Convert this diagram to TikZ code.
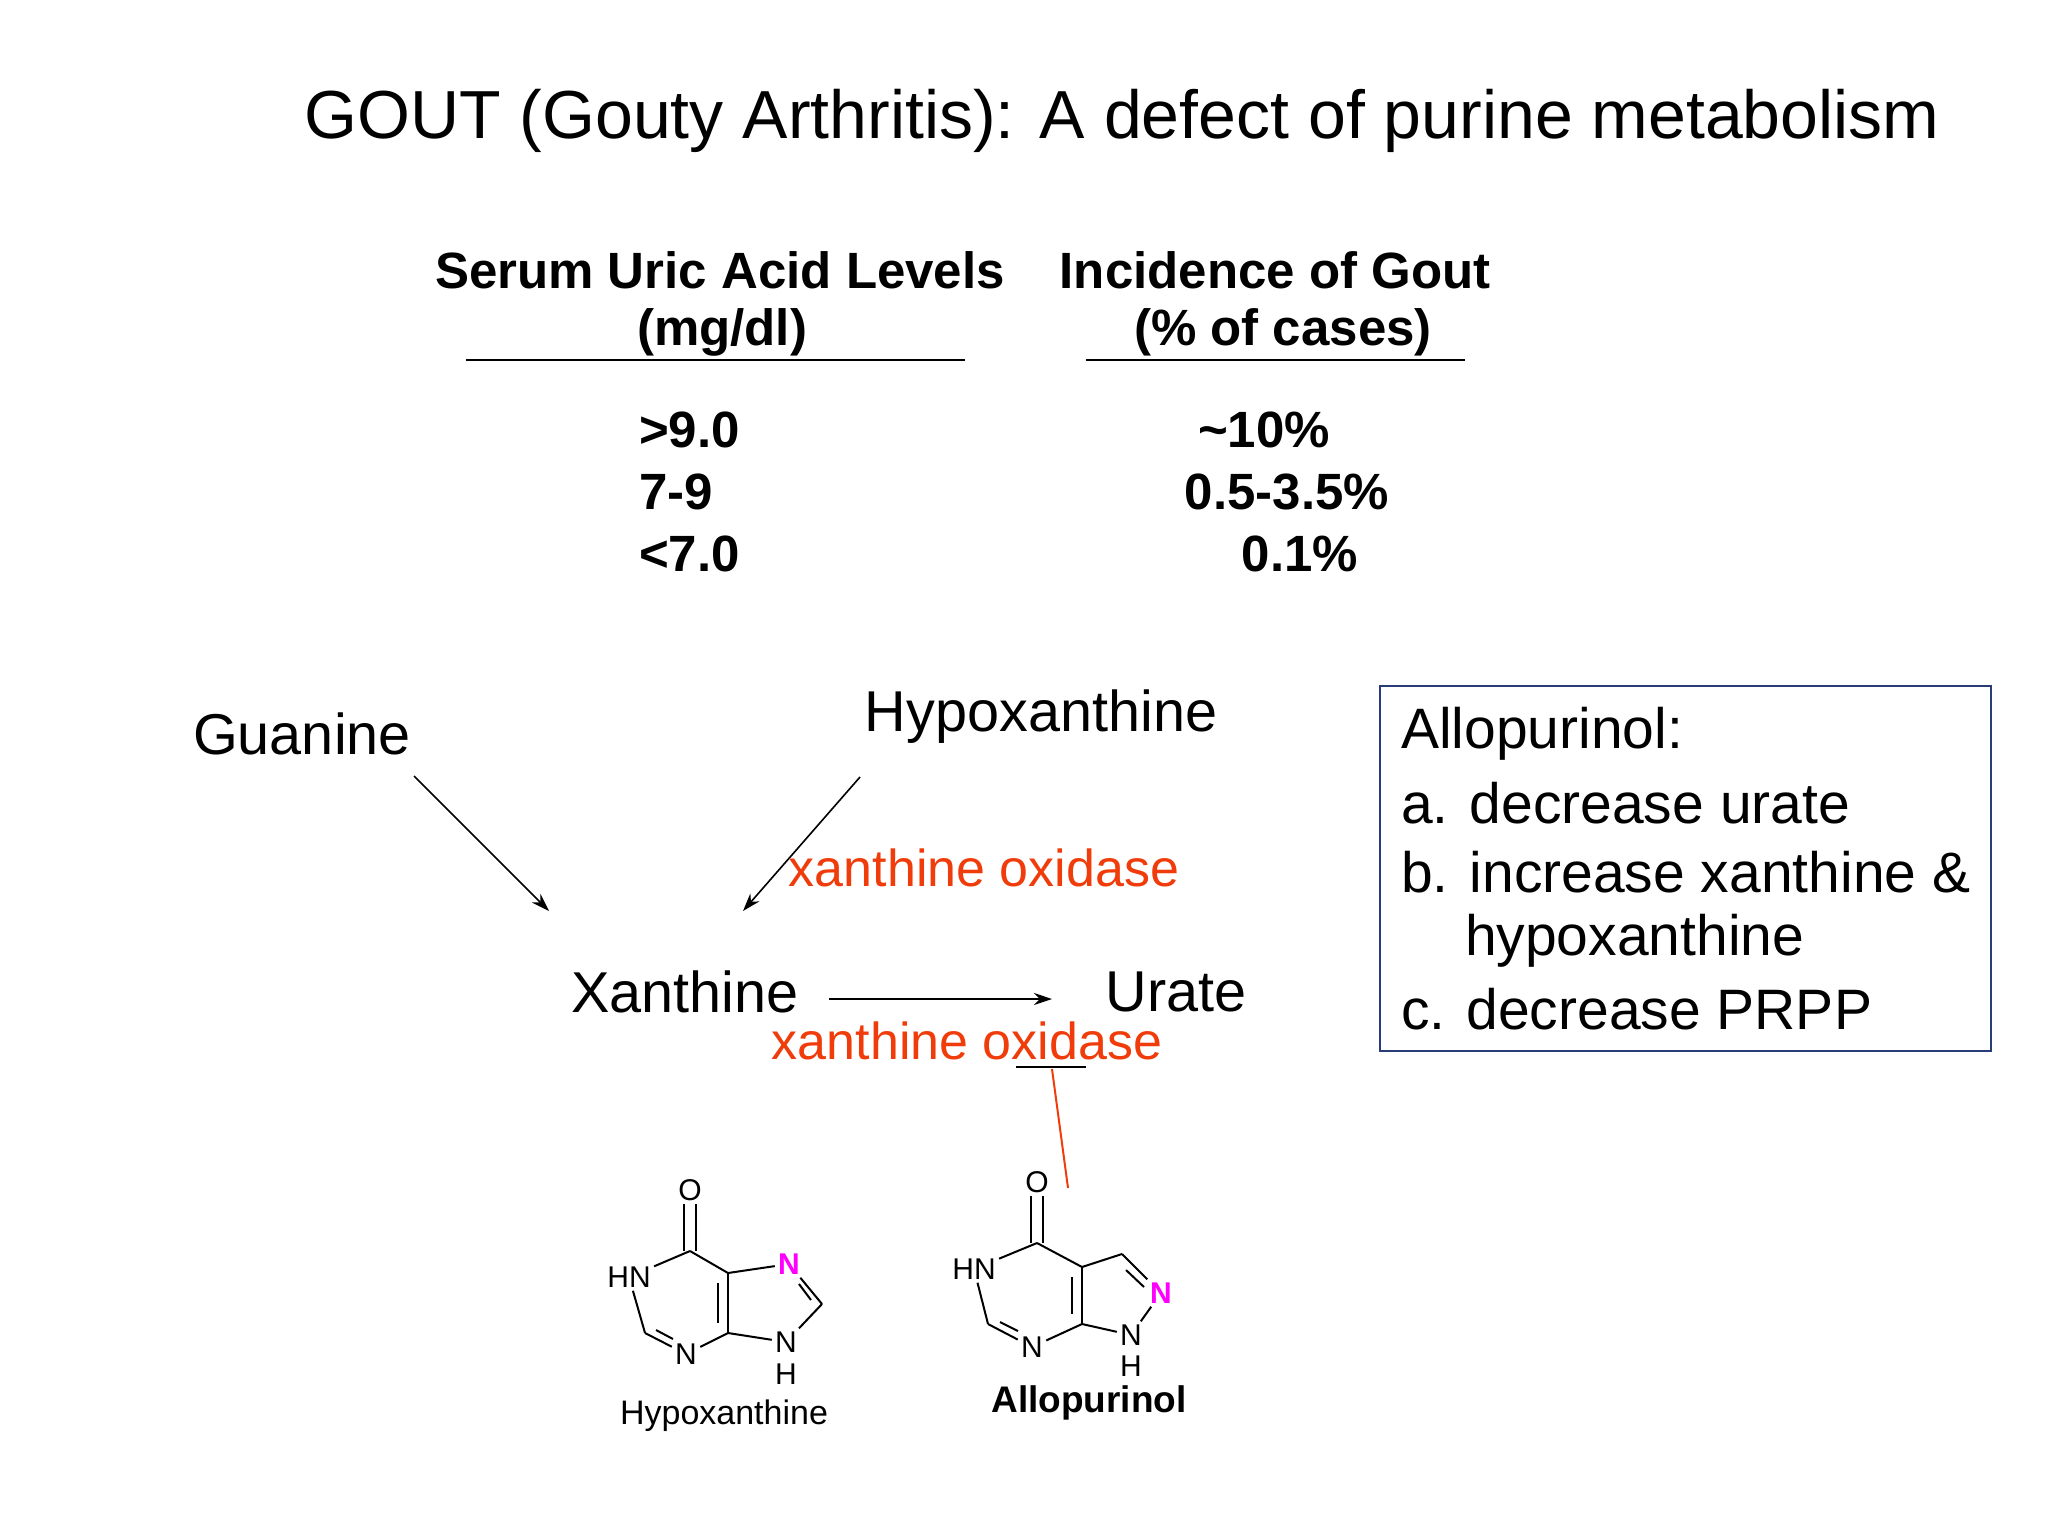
\documentclass[tikz,border=0pt]{standalone}
\usepackage{fontspec}
\setmainfont{Liberation Sans}
\usetikzlibrary{arrows.meta}
\definecolor{redox}{RGB}{240,60,10}
\definecolor{boxblue}{RGB}{40,60,120}
\definecolor{magN}{RGB}{255,0,255}
\tikzset{
  big/.style={font=\fontsize{34}{40}\selectfont},
  hdr/.style={font=\fontsize{25.5}{30}\selectfont\bfseries},
  mol/.style={font=\fontsize{28.8}{34}\selectfont},
  enz/.style={font=\fontsize{26}{30}\selectfont, text=redox},
  boxt/.style={font=\fontsize{28.5}{34}\selectfont, anchor=west},
  arr/.style={-{Stealth[length=9pt,width=6pt]}, line width=0.8pt},
  atm/.style={font=\fontsize{15}{17}\selectfont, inner sep=1.5pt},
  matm/.style={font=\fontsize{15}{17}\selectfont\bfseries, inner sep=1.5pt, text=magN},
  bd/.style={line width=1pt},
}
\begin{document}
\begin{tikzpicture}[x=0.5pt,y=-0.5pt]
\useasboundingbox (0,0) rectangle (2048,1536);
\node[big] (title) at (1122,121) {GOUT (Gouty Arthritis): A defect of purine metabolism};
% table
\node[hdr] (h1a) at (720,270) {Serum Uric Acid Levels};
\node[hdr] (h1b) at (722,332) {(mg/dl)};
\node[hdr] (h2a) at (1275,270) {Incidence of Gout};
\node[hdr] (h2b) at (1283,332) {(\% of cases)};
\coordinate (u1a) at (466,360); \coordinate (u1b) at (965,360);
\coordinate (u2a) at (1086,360); \coordinate (u2b) at (1465,360);
\draw[line width=1pt] (u1a) -- (u1b);
\draw[line width=1pt] (u2a) -- (u2b);
\node[hdr,anchor=west] (v1) at (632,430) {>9.0};
\node[hdr,anchor=west] (v2) at (632,492) {7-9};
\node[hdr,anchor=west] (v3) at (632,554) {<7.0};
\node[hdr] (p1) at (1264,430) {\textasciitilde 10\%};
\node[hdr] (p2) at (1287,492) {0.5-3.5\%};
\node[hdr] (p3) at (1300,554) {0.1\%};
% pathway
\node[mol] (gua) at (302,734) {Guanine};
\node[mol] (hyp) at (1041,717) {Hypoxanthine};
\node[mol] (xan) at (685,992) {Xanthine};
\node[mol] (ura) at (1176,992) {Urate};
\coordinate (a1s) at (414,776); \coordinate (a1e) at (549,911);
\coordinate (a2s) at (860,777); \coordinate (a2e) at (743,911);
\coordinate (a3s) at (829,999); \coordinate (a3e) at (1052,999);
\draw[arr] (a1s) -- (a1e);
\draw[arr] (a2s) -- (a2e);
\draw[arr] (a3s) -- (a3e);
\node[enz] (xo1) at (984,868) {xanthine oxidase};
\node[enz] (xo2) at (967,1041) {xanthine oxidase};
\coordinate (ul1) at (1016,1067); \coordinate (ul2) at (1086,1067);
\draw[line width=0.8pt] (ul1) -- (ul2);
\coordinate (rl1) at (1052,1069); \coordinate (rl2) at (1068,1188);
\draw[redox, line width=1pt] (rl1) -- (rl2);
% box
\node[draw=boxblue, line width=1pt, minimum width=305.5pt, minimum height=182.5pt, anchor=north west, inner sep=0pt] (box) at (1379,685) {};
\node[boxt] (b1) at (1394,734) {Allopurinol:};
\node[boxt] (b2) at (1394,803) {a. decrease urate};
\node[boxt] (b3) at (1394,872) {b. increase xanthine \&};
\node[boxt] (b4) at (1458,941) {hypoxanthine};
\node[boxt] (b5) at (1394,1009) {c. decrease PRPP};
% hypoxanthine structure
\node[atm] (hO) at (690,1190) {O};
\coordinate (hC6) at (690,1251);
\node[atm] (hN1) at (629,1277) {HN};
\coordinate (hC2) at (645,1333);
\node[atm] (hN3) at (686,1354) {N};
\coordinate (hC4) at (728,1333);
\coordinate (hC5) at (728,1273);
\node[matm] (hN7) at (789,1264) {N};
\coordinate (hC8) at (822,1304);
\node[atm] (hN9) at (786,1342) {N};
\node[atm] (hH9) at (786,1374) {H};
\coordinate (hd1) at (656,1330); \coordinate (hd2) at (673,1339);
\coordinate (hd3) at (718,1283); \coordinate (hd4) at (718,1323);
\coordinate (hd5) at (799,1284); \coordinate (hd6) at (811,1300);
\draw[bd] ([xshift=-3]hO.south) -- ([xshift=-3]hC6);
\draw[bd] ([xshift=3]hO.south) -- ([xshift=3]hC6);
\draw[bd] (hC6) -- (hN1);
\draw[bd] (hN1) -- (hC2);
\draw[bd] (hC2) -- (hN3);
\draw[bd] (hd1) -- (hd2);
\draw[bd] (hN3) -- (hC4);
\draw[bd] (hC4) -- (hC5);
\draw[bd] (hd3) -- (hd4);
\draw[bd] (hC5) -- (hC6);
\draw[bd] (hC5) -- (hN7);
\draw[bd] (hN7) -- (hC8);
\draw[bd] (hd5) -- (hd6);
\draw[bd] (hC8) -- (hN9);
\draw[bd] (hN9) -- (hC4);
\node[font=\fontsize{17}{20}\selectfont] (hlab) at (724,1416) {Hypoxanthine};
% allopurinol structure
\node[atm] (aO) at (1037,1182) {O};
\coordinate (aC4) at (1037,1243);
\node[atm] (aN5) at (974,1269) {HN};
\coordinate (aC6) at (988,1324);
\node[atm] (aN7) at (1032,1347) {N};
\coordinate (aC7a) at (1082,1324);
\coordinate (aC3a) at (1082,1267);
\coordinate (aC3) at (1122,1254);
\node[matm] (aN2) at (1161,1293) {N};
\node[atm] (aN1) at (1131,1335) {N};
\node[atm] (aH1) at (1131,1366) {H};
\coordinate (ad1) at (1000,1322); \coordinate (ad2) at (1018,1331);
\coordinate (ad3) at (1072,1277); \coordinate (ad4) at (1072,1314);
\coordinate (ad5) at (1126,1270); \coordinate (ad6) at (1144,1287);
\draw[bd] ([xshift=-3]aO.south) -- ([xshift=-3]aC4);
\draw[bd] ([xshift=3]aO.south) -- ([xshift=3]aC4);
\draw[bd] (aC4) -- (aN5);
\draw[bd] (aN5) -- (aC6);
\draw[bd] (aC6) -- (aN7);
\draw[bd] (ad1) -- (ad2);
\draw[bd] (aN7) -- (aC7a);
\draw[bd] (aC7a) -- (aC3a);
\draw[bd] (ad3) -- (ad4);
\draw[bd] (aC3a) -- (aC4);
\draw[bd] (aC3a) -- (aC3);
\draw[bd] (aC3) -- (aN2);
\draw[bd] (ad5) -- (ad6);
\draw[bd] (aN2) -- (aN1);
\draw[bd] (aN1) -- (aC7a);
\node[font=\fontsize{18.5}{22}\selectfont\bfseries] (alab) at (1089,1403) {Allopurinol};
\end{tikzpicture}
\end{document}
